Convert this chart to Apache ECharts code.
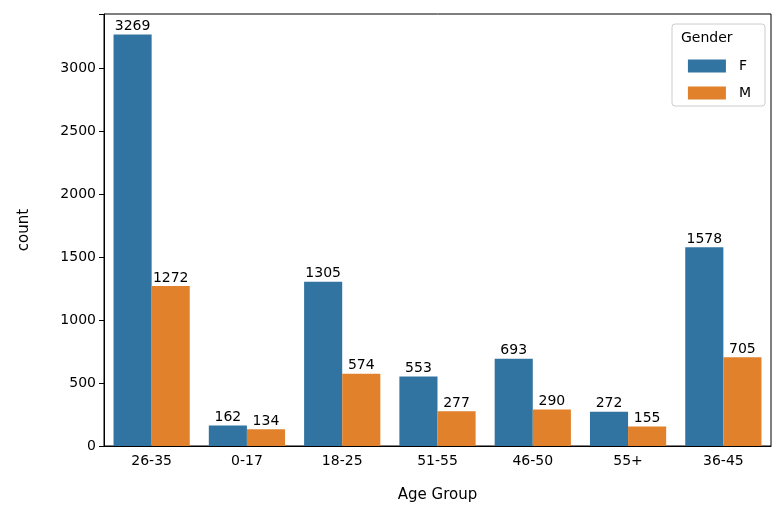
<!DOCTYPE html>
<html><head><meta charset="utf-8">
<script src="https://cdn.jsdelivr.net/npm/echarts@6/dist/echarts.min.js"></script>
<style>html,body{margin:0;padding:0;background:#fff}#c{width:784px;height:520px}</style>
</head><body><div id="c"></div>
<script>
const categories = ['26-35','0-17','18-25','51-55','46-50','55+','36-45'];
const femaleCounts = [3269,162,1305,553,693,272,1578];
const maleCounts = [1272,134,574,277,290,155,705];
const yTicks = [0,500,1000,1500,2000,2500,3000];
const font = 'DejaVu Sans';
const chart = echarts.init(document.getElementById('c'));
const lbl = {show:true,position:'top',distance:1,color:'#000',fontSize:14,fontFamily:font};
chart.setOption({
  animation:false,
  grid:{left:104,right:13,top:14,bottom:74,show:true,borderColor:'#000',borderWidth:1,containLabel:false},
  legend:{orient:'vertical',right:28,top:54,itemWidth:38,itemHeight:13,itemGap:13,
    textStyle:{fontFamily:font,fontSize:14,color:'#000',padding:[0,0,0,8]},data:['F','M'],icon:'rect'},
  graphic:[
    {type:'rect',shape:{x:672,y:24,width:93,height:82,r:3},style:{fill:'#fff',stroke:'#ccc',lineWidth:1},z:-1},
    {type:'text',left:681,top:31,style:{text:'Gender',font:'14px DejaVu Sans',fill:'#000'}}
  ],
  xAxis:{type:'category',data:categories,name:'Age Group',nameLocation:'middle',nameGap:42,
    nameTextStyle:{fontFamily:font,fontSize:15,color:'#000'},
    axisLine:{lineStyle:{color:'#000'}},axisTick:{alignWithLabel:true,lineStyle:{color:'#000'},length:5},
    axisLabel:{fontFamily:font,fontSize:14,color:'#000',margin:8}},
  yAxis:{type:'value',min:0,max:3432,interval:500,name:'count',nameLocation:'middle',nameGap:72,
    nameTextStyle:{fontFamily:font,fontSize:15,color:'#000'},
    axisLine:{show:true,lineStyle:{color:'#000'}},axisTick:{show:true,length:5,lineStyle:{color:'#000'}},
    splitLine:{show:false},
    axisLabel:{fontFamily:font,fontSize:14,color:'#000',margin:8,
      formatter:v=>yTicks.includes(v)?String(v):''}},
  series:[
    {name:'F',type:'bar',data:femaleCounts,barWidth:'40%',barGap:'0%',itemStyle:{color:'#3274a1'},label:lbl},
    {name:'M',type:'bar',data:maleCounts,barWidth:'40%',itemStyle:{color:'#e1812c'},label:lbl}
  ]
});
</script></body></html>
